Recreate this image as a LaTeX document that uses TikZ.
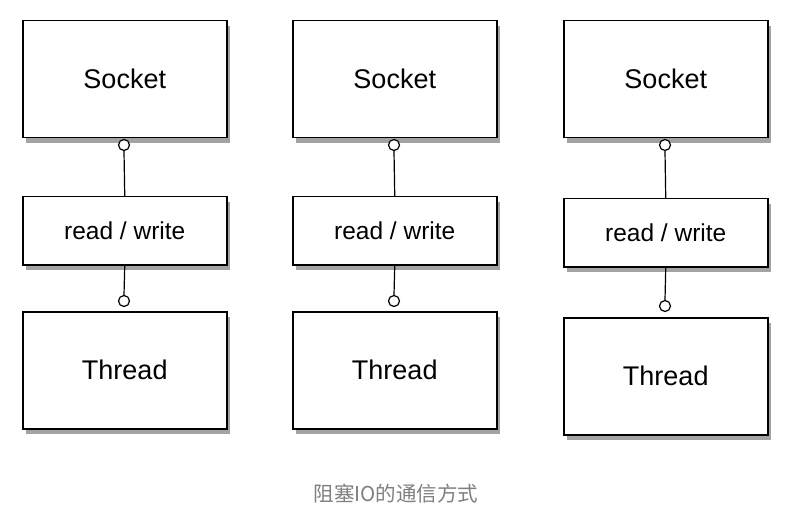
\documentclass[tikz,border=0pt]{standalone}
\usepackage{fontspec}
\setmainfont{Liberation Sans}
\newfontfamily\cjk{Noto Sans CJK SC}
\usetikzlibrary{shadows}
\begin{document}
\begin{tikzpicture}[x=1pt,y=-1pt,
  box/.style={draw=black,line width=1.5pt,fill=white,inner sep=0pt,anchor=north west,
    drop shadow={shadow xshift=3pt,shadow yshift=-5pt,fill=black!60,opacity=0.6}},
  big/.style={box,minimum width=204pt,minimum height=117pt,font=\fontsize{27}{31}\selectfont},
  mid/.style={box,minimum width=204pt,minimum height=68pt,font=\fontsize{24.5}{28}\selectfont},
  port/.style={circle,draw=black,line width=1.2pt,fill=white,inner sep=0pt,minimum size=11pt},
  wire/.style={line width=1.2pt}]
\useasboundingbox (0,0) rectangle (793,524);
\fill[white] (0,0) rectangle (793,524);
% column 1
\node[big] (s1) at (22,20) {Socket};
\node[mid] (r1) at (22,196) {read / write};
\node[big] (t1) at (22,311) {Thread};
\node[port] (a1) at (124,145) {};
\node[port] (b1) at (124,301) {};
% column 2
\node[big] (s2) at (292,20) {Socket};
\node[mid] (r2) at (292,196) {read / write};
\node[big] (t2) at (292,311) {Thread};
\node[port] (a2) at (394,145) {};
\node[port] (b2) at (394,301) {};
% column 3
\node[big] (s3) at (563,20) {Socket};
\node[mid] (r3) at (563,198) {read / write};
\node[big] (t3) at (563,317) {Thread};
\node[port] (a3) at (665,145) {};
\node[port] (b3) at (665,306) {};
\foreach \i in {1,2,3}{
  \draw[wire] (a\i.south) -- (r\i.north);
  \draw[wire] (r\i.south) -- (b\i.north);
}
\node[font=\cjk\fontsize{20.5}{24}\selectfont,text=black!50] (cap) at (396,494) {阻塞IO的通信方式};
\end{tikzpicture}
\end{document}
